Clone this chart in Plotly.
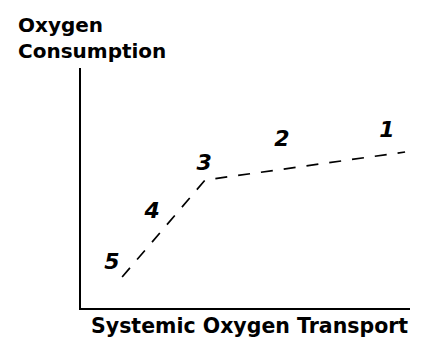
import plotly.graph_objects as go

# Data (axis units 0-100)
line_x = [12.5, 37.7, 98.5]
line_y = [12.9, 53.3, 65.0]

label_text = ["5", "4", "3", "2", "1"]
label_x = [9.4, 21.6, 37.4, 61.1, 93.0]
label_y = [18.75, 39.6, 60.0, 70.0, 73.75]

x_title = "Systemic Oxygen Transport"
y_title = "Oxygen<br>Consumption"

fig = go.Figure()
fig.add_trace(go.Scatter(
    x=line_x, y=line_y, mode="lines",
    line=dict(color="black", width=1.7, dash="12px,11px"),
    hoverinfo="skip", showlegend=False,
))
fig.add_trace(go.Scatter(
    x=label_x, y=label_y, mode="text", text=label_text,
    textposition="middle center",
    textfont=dict(family="DejaVu Sans", size=22, color="black",
                  weight="bold", style="italic"),
    hoverinfo="skip", showlegend=False,
))

axis_common = dict(range=[0, 100], showgrid=False, zeroline=False,
                   showticklabels=False, ticks="", showline=True,
                   linecolor="black", linewidth=2, fixedrange=True)
fig.update_xaxes(**axis_common)
fig.update_yaxes(**axis_common)

fig.add_annotation(
    text=x_title, xref="paper", yref="paper", x=0.512, y=-0.074,
    xanchor="center", yanchor="middle", showarrow=False,
    font=dict(family="DejaVu Sans", size=20.5, color="black", weight="bold"),
)
fig.add_annotation(
    text=y_title, xref="paper", yref="paper", x=-0.1976, y=1.125,
    xanchor="left", yanchor="middle", align="left", showarrow=False,
    font=dict(family="DejaVu Sans", size=20, color="black", weight="bold"),
)

fig.update_layout(
    width=414, height=343,
    margin=dict(l=73, r=12, t=60, b=43),
    paper_bgcolor="white", plot_bgcolor="white",
    showlegend=False,
)
fig.write_html("out.html")
